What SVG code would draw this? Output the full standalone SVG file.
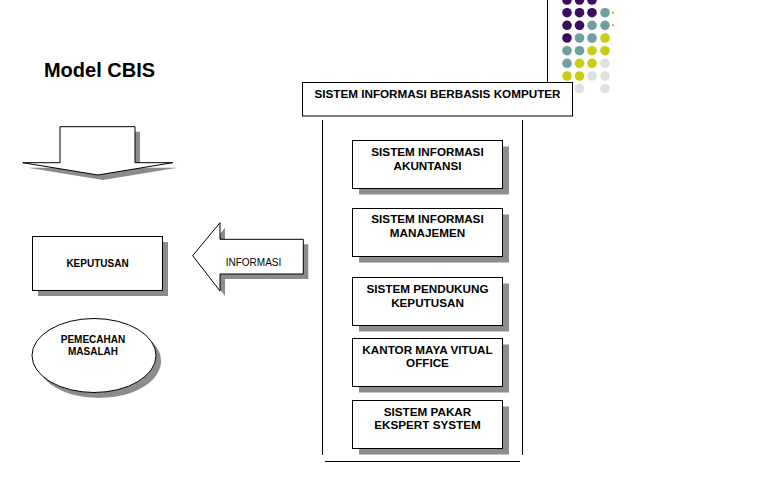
<svg xmlns="http://www.w3.org/2000/svg" width="768" height="481" viewBox="0 0 768 481">
<style>
.box{fill:#fff;stroke:#000;stroke-width:1}
.sh{fill:#8c8c8c}
.t{font-family:"Liberation Sans",Arial,sans-serif;font-weight:bold;fill:#000;text-anchor:middle}
.ln{stroke:#000;stroke-width:1;fill:none}
.p{fill:#3d0b5e}.g{fill:#6e9fa1}.y{fill:#c9cc12}.w{fill:#e0e0e0}
</style>
<rect width="768" height="481" fill="#fff"/>
<g id="dots">
<circle class="p" cx="567" cy="0" r="4.8"/><circle class="p" cx="579.5" cy="0" r="4.8"/><circle class="p" cx="592" cy="0" r="4.8"/>
<circle class="p" cx="567" cy="12.7" r="4.8"/><circle class="p" cx="579.5" cy="12.7" r="4.8"/><circle class="p" cx="592" cy="12.7" r="4.8"/><circle class="g" cx="605" cy="12.7" r="4.8"/>
<circle class="p" cx="567" cy="25.3" r="4.8"/><circle class="p" cx="579.5" cy="25.3" r="4.8"/><circle class="g" cx="592" cy="25.3" r="4.8"/><circle class="g" cx="605" cy="25.3" r="4.8"/>
<circle class="p" cx="567" cy="38" r="4.8"/><circle class="g" cx="579.5" cy="38" r="4.8"/><circle class="g" cx="592" cy="38" r="4.8"/><circle class="y" cx="605" cy="38" r="4.8"/>
<circle class="g" cx="567" cy="50.7" r="4.8"/><circle class="g" cx="579.5" cy="50.7" r="4.8"/><circle class="y" cx="592" cy="50.7" r="4.8"/><circle class="y" cx="605" cy="50.7" r="4.8"/>
<circle class="g" cx="567" cy="63.3" r="4.8"/><circle class="y" cx="579.5" cy="63.3" r="4.8"/><circle class="y" cx="592" cy="63.3" r="4.8"/><circle class="w" cx="605" cy="63.3" r="4.8"/>
<circle class="y" cx="567" cy="76" r="4.8"/><circle class="y" cx="579.5" cy="76" r="4.8"/><circle class="w" cx="592" cy="76" r="4.8"/><circle class="w" cx="605" cy="76" r="4.8"/>
<circle class="w" cx="579.5" cy="88.7" r="4.8"/><circle class="w" cx="605" cy="88.7" r="4.8"/>
<circle class="y" cx="613" cy="12.7" r="1.2"/><circle class="y" cx="613" cy="25.3" r="1.2"/>
</g>
<text class="t" x="99.5" y="77" font-size="20">Model CBIS</text>
<g id="connectors">
<line class="ln" x1="547.5" y1="0" x2="547.5" y2="82"/>
<line class="ln" x1="322.5" y1="120" x2="322.5" y2="455"/>
<line class="ln" x1="522.5" y1="120" x2="522.5" y2="455"/>
<line class="ln" x1="325" y1="461.5" x2="520" y2="461.5"/>
</g>
<g id="down-arrow">
<polygon class="sh" points="65,131.7 140,131.7 140,167.7 177.7,167.7 103,180 27.7,167.7 65,167.7"/>
<polygon class="box" points="60,126.7 135,126.7 135,162.7 172.7,162.7 98,175 22.7,162.7 60,162.7"/>
</g>
<g id="keputusan">
<rect class="sh" x="38" y="242" width="130" height="54"/>
<rect class="box" x="32.5" y="236.5" width="130" height="54"/>
<text class="t" x="97.5" y="267" font-size="10">KEPUTUSAN</text>
</g>
<g id="informasi">
<polygon class="sh" points="197.7,260.7 225,227.7 225,244.3 308.3,244.3 308.3,279 225,279 225,296"/>
<polygon class="box" points="192.7,255.7 220,222.7 220,239.3 303.3,239.3 303.3,274 220,274 220,291"/>
<text x="253.5" y="266" font-size="10" font-family="Liberation Sans,Arial,sans-serif" text-anchor="middle">INFORMASI</text>
</g>
<g id="pemecahan">
<ellipse class="sh" cx="99" cy="361" rx="62" ry="37"/>
<ellipse class="box" cx="94" cy="355.5" rx="62" ry="37"/>
<text class="t" x="93" y="342.5" font-size="10">PEMECAHAN</text>
<text class="t" x="93" y="355" font-size="10">MASALAH</text>
</g>
<g id="sibk">
<rect class="box" x="302.5" y="82.5" width="270" height="33.5"/>
<text class="t" x="437.5" y="97.5" font-size="11.7">SISTEM INFORMASI BERBASIS KOMPUTER</text>
</g>
<g id="sia">
<rect class="sh" x="359" y="146.5" width="150" height="48"/>
<rect class="box" x="352.5" y="140.5" width="150" height="48"/>
<text class="t" x="427.5" y="156" font-size="11.7">SISTEM INFORMASI</text>
<text class="t" x="427.5" y="170" font-size="11.7">AKUNTANSI</text>
</g>
<g id="sim">
<rect class="sh" x="359" y="214.5" width="150" height="48"/>
<rect class="box" x="352.5" y="208.5" width="150" height="48"/>
<text class="t" x="427.5" y="223.3" font-size="11.7">SISTEM INFORMASI</text>
<text class="t" x="427.5" y="237.3" font-size="11.7">MANAJEMEN</text>
</g>
<g id="spk">
<rect class="sh" x="359" y="283.5" width="150" height="48"/>
<rect class="box" x="352.5" y="277.5" width="150" height="48"/>
<text class="t" x="427.5" y="292.7" font-size="11.7">SISTEM PENDUKUNG</text>
<text class="t" x="427.5" y="306.7" font-size="11.7">KEPUTUSAN</text>
</g>
<g id="kantor">
<rect class="sh" x="359" y="344.5" width="150" height="48"/>
<rect class="box" x="352.5" y="338.5" width="150" height="48"/>
<text class="t" x="427.5" y="354" font-size="11.7">KANTOR MAYA VITUAL</text>
<text class="t" x="427.5" y="367.3" font-size="11.7">OFFICE</text>
</g>
<g id="pakar">
<rect class="sh" x="359" y="406.5" width="150" height="48"/>
<rect class="box" x="352.5" y="400.5" width="150" height="48"/>
<text class="t" x="427.5" y="416" font-size="11.7">SISTEM PAKAR</text>
<text class="t" x="427.5" y="429.3" font-size="11.7">EKSPERT SYSTEM</text>
</g>
</svg>
